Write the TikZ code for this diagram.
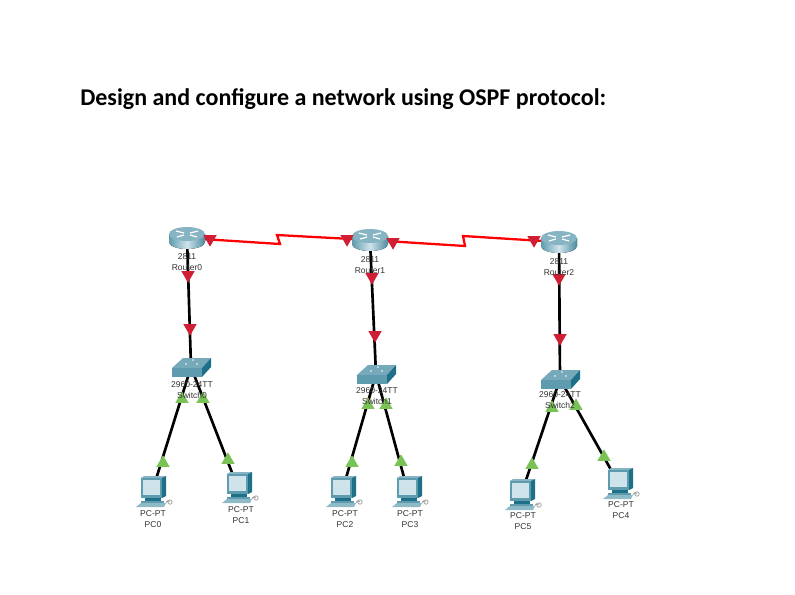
\documentclass[tikz,border=0pt]{standalone}
\usepackage{fontspec}
\setmainfont{Carlito}
\newfontfamily\labelfont{Liberation Sans}
\usetikzlibrary{shapes.geometric}
\definecolor{tipred}{HTML}{D01F35}
\definecolor{tipgreen}{HTML}{79C255}
\definecolor{devdark}{HTML}{1E6F88}
\definecolor{devmid}{HTML}{5E9BAE}
\definecolor{devlight}{HTML}{CFE3EA}
\tikzset{
  device/.style={inner sep=0pt, minimum size=0pt},
  devlabel/.style={align=center, inner sep=0pt, text=black!80, font=\labelfont\fontsize{6.4}{8.2}\selectfont},
  serial/.style={draw=red, line width=1.7pt},
  cable/.style={draw=black, line width=2pt},
  redtip/.style={regular polygon, regular polygon sides=3, shape border rotate=180, fill=tipred, inner sep=0pt, minimum size=11.5pt},
  greentip/.style={regular polygon, regular polygon sides=3, fill=tipgreen, inner sep=0pt, minimum size=11.5pt},
  routericon/.pic={
    \fill[left color=devmid, right color=devdark!80, middle color=devlight]
      (-18,-4) -- (-18,4) arc[start angle=180, end angle=0, x radius=18, y radius=7] -- (18,-4) -- cycle;
    \fill[devmid!75!white] (0,-4) ellipse[x radius=18, y radius=7];
    \draw[white, line width=0.9pt] (-11,-7) -- (-3,-5) (11,-7) -- (3,-5) (-10,-1) -- (-3,-3) (10,-1) -- (3,-3);
  },
  switchicon/.pic={
    \fill[devmid!85!white] (-19,1) -- (-8,-9) -- (20,-9) -- (11,1) -- cycle;
    \fill[devmid] (-19,1) rectangle (11,10);
    \fill[devdark] (11,1) -- (20,-9) -- (20,0) -- (11,10) -- cycle;
    \fill[white] (-5,-3) circle[radius=0.8] (2,-7) circle[radius=0.8] (6,-3) circle[radius=0.8];
  },
  pcicon/.pic={
    \fill[devmid!75!white] (-11,-14) -- (-8,-16) -- (14,-16) -- (10,-14) -- cycle;
    \fill[devdark] (10,-14) -- (14,-16) -- (14,4) -- (10,6) -- cycle;
    \fill[devmid] (-11,-14) rectangle (10,6);
    \fill[devlight] (-9,-12) rectangle (8,3);
    \fill[devdark] (-7,6) rectangle (9,9);
    \fill[devmid] (-11,9) rectangle (12,11);
    \fill[devmid!70!white] (-16,15) -- (-11,11) -- (14,11) -- (12,15) -- cycle;
    \draw[black!35, line width=0.6pt] (14,11) .. controls (15,8) and (17,8) .. (18,10) circle[radius=2.2];
  },
}
\begin{document}
\begin{tikzpicture}[x=0.75pt, y=-0.75pt]
\useasboundingbox (0,0) rectangle (795,594);
\node[anchor=west, inner sep=0pt, font=\bfseries\fontsize{18}{22}\selectfont] (title) at (80,99.5)
  {Design and configure a network using OSPF protocol:};
% devices
\foreach \name/\x/\y in {Router0/187/238, Router1/370/240, Router2/559/242,
    Switch0/191/367, Switch1/376/374, Switch2/560/379,
    PC0/152/492, PC1/238/488, PC2/342/492, PC3/408/492, PC5/521/495, PC4/619/484}
  \node[device] (\name) at (\x,\y) {};
% serial links
\coordinate (zigA) at (280,244);
\coordinate (zagA) at (277,235);
\coordinate (zigB) at (465,246);
\coordinate (zagB) at (463,236);
\draw[serial] (Router0) -- (zigA) -- (zagA) -- (Router1);
\draw[serial] (Router1) -- (zigB) -- (zagB) -- (Router2);
% cables
\foreach \a/\b in {Router0/Switch0, Router1/Switch1, Router2/Switch2,
    Switch0/PC0, Switch0/PC1, Switch1/PC2, Switch1/PC3, Switch2/PC5, Switch2/PC4}
  \draw[cable] (\a) -- (\b);
% icons
\foreach \name in {Router0, Router1, Router2}
  \pic at (\name) {routericon};
\foreach \name in {Switch0, Switch1, Switch2}
  \pic at (\name) {switchicon};
\foreach \name in {PC0, PC1, PC2, PC3, PC5, PC4}
  \pic at (\name) {pcicon};
% link lights
\foreach \i/\x/\y in {0/210/239, 1/347/239, 2/393/242, 3/534/240, 4/188/275, 5/190/328,
    6/372/277, 7/375/335, 8/559/278, 9/560/338}
  \node[redtip] (red\i) at (\x,\y) {};
\foreach \i/\x/\y in {0/182/399, 1/203/399, 2/163/463, 3/228/460, 4/368/405, 5/386/405,
    6/352/463, 7/401/462, 8/552/408, 9/576/406, 10/532/465, 11/604/457}
  \node[greentip] (green\i) at (\x,\y) {};
% labels
\foreach \name/\x/\y/\model in {Router0/187/262/2811, Router1/370/265.5/2811, Router2/559/267/2811,
    Switch0/192/390/2960-24TT, Switch1/377/396.5/2960-24TT, Switch2/560/400.5/2960-24TT,
    PC0/153/519/PC-PT, PC1/241/515/PC-PT, PC2/345/519.5/PC-PT, PC3/410/519.5/PC-PT,
    PC5/523/521/PC-PT, PC4/621/510/PC-PT}
  \node[devlabel] (\name text) at (\x,\y) {\model\\\name};
\end{tikzpicture}
\end{document}
